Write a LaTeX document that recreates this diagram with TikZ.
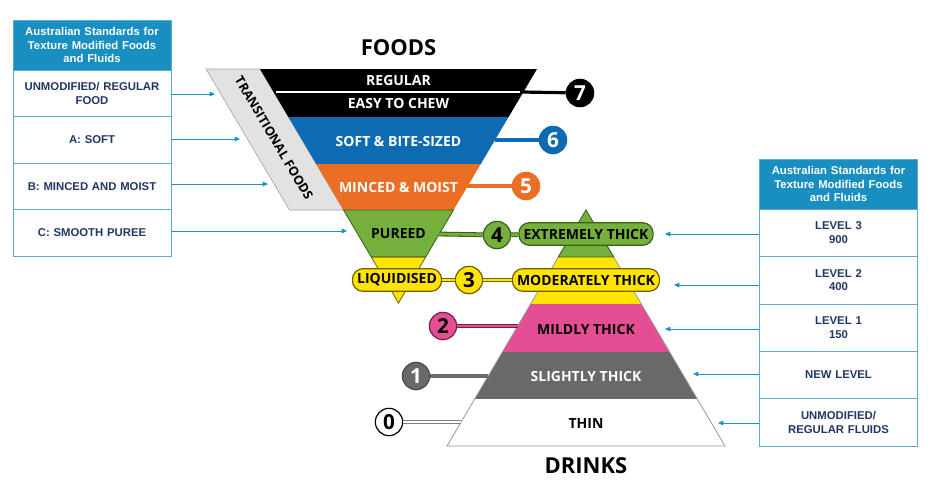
\documentclass[tikz,border=0pt]{standalone}
\usepackage{fontspec}
\setmainfont{Liberation Sans}
\newfontfamily\chartfont{Open Sans}
\usetikzlibrary{arrows.meta}
\definecolor{tblhead}{RGB}{24,142,193}
\definecolor{tblline}{RGB}{95,170,210}
\definecolor{tbltext}{RGB}{35,55,100}
\definecolor{arrowcol}{RGB}{30,145,190}
\definecolor{lvblue}{RGB}{14,107,178}
\definecolor{lvorange}{RGB}{234,111,36}
\definecolor{lvgreen}{RGB}{118,176,60}
\definecolor{lvgreendk}{RGB}{55,95,25}
\definecolor{lvyellow}{RGB}{255,228,0}
\definecolor{lvyellowdk}{RGB}{110,95,0}
\definecolor{lvpink}{RGB}{228,78,148}
\definecolor{lvpinkdk}{RGB}{120,30,70}
\definecolor{lvgrey}{RGB}{105,105,105}
\definecolor{transgrey}{RGB}{226,226,226}

\begin{document}
\begin{tikzpicture}[x=0.75pt, y=-0.75pt,
  cell/.style={draw=tblline, fill=white, minimum width=118.5pt, minimum height=34.9pt, text width=112pt, align=center, inner sep=0pt, text=tbltext, font=\fontsize{8.5}{10}\selectfont\bfseries},
  head/.style={cell, fill=tblhead, text=white, minimum height=37.5pt},
  arr/.style={-{Triangle[length=4pt,width=3.5pt]}, draw=arrowcol, line width=0.6pt},
  band/.style={font=\chartfont\fontsize{10.5}{11}\selectfont\bfseries},
  pill/.style={band, rounded corners=8pt, minimum height=17pt, inner xsep=3.5pt, inner ysep=0pt, line width=0.9pt},
  num/.style={circle, minimum size=20.5pt, inner sep=0pt, line width=0.9pt, font=\chartfont\fontsize{15.5}{15.5}\selectfont\bfseries},
  link/.style={line width=2.4pt},
  dlink/.style={line width=0.8pt, double distance=2pt}]

\useasboundingbox (0,0) rectangle (940,487);

% foods funnel
\coordinate (ftl) at (260,69);
\coordinate (ftr) at (537,69);
\coordinate (fap) at (398.5,303);

\fill[transgrey, draw=gray!70, line width=0.5pt] (206,69) -- (ftl) -- (343.5,210) -- (289.5,210) -- cycle;
\node[band, font=\chartfont\fontsize{9.5}{10}\selectfont\bfseries, rotate=-59.4] (trans) at (274,138) {TRANSITIONAL FOODS};

\begin{scope}
\clip (ftl) -- (ftr) -- (fap) -- cycle;
\fill[black] (200,60) rectangle (600,117);
\fill[lvblue] (200,117) rectangle (600,164);
\fill[lvorange] (200,164) rectangle (600,210);
\fill[lvgreen] (200,210) rectangle (600,257);
\fill[lvyellow] (200,257) rectangle (600,310);
\end{scope}
\draw[lvgreendk, line width=0.6pt] (343.5,210) -- (453.5,210) -- (425.7,257) -- (371.3,257) -- cycle;
\draw[lvyellowdk, line width=0.6pt] (371.3,257) -- (425.7,257) -- (fap) -- cycle;
\draw[white, line width=1pt] (276,92) -- (520,92);

\node[band, white] (reg) at (398.5,80) {REGULAR};
\node[band, white] (etc) at (398.5,103) {EASY TO CHEW};
\node[band, white] (sbs) at (398.5,141) {SOFT \& BITE-SIZED};
\node[band, white] (mm) at (398.5,187) {MINCED \& MOIST};
\node[band] (pur) at (398.5,234) {PUREED};
\node[font=\chartfont\fontsize{16.5}{16.5}\selectfont\bfseries] (foods) at (398.5,48) {FOODS};

% drinks pyramid
\coordinate (dap) at (586,210);
\coordinate (dbl) at (447,446);
\coordinate (dbr) at (725,446);

\begin{scope}
\clip (dap) -- (dbr) -- (dbl) -- cycle;
\fill[lvgreen] (440,200) rectangle (740,257);
\fill[lvyellow] (440,257) rectangle (740,304);
\fill[lvpink] (440,304) rectangle (740,352);
\fill[lvgrey] (440,352) rectangle (740,399);
\fill[white] (440,399) rectangle (740,446);
\end{scope}
\draw[gray!80, line width=0.6pt] (dap) -- (dbr) -- (dbl) -- cycle;
\draw[lvgreendk, line width=0.6pt] (dap) -- (613.7,257) -- (558.3,257) -- cycle;

\node[band] (mid) at (586,329) {MILDLY THICK};
\node[band, white] (sli) at (586,376) {SLIGHTLY THICK};
\node[band] (thin) at (586,423) {THIN};
\node[font=\chartfont\fontsize{16.5}{16.5}\selectfont\bfseries] (drinks) at (586,466) {DRINKS};

% level connectors
\coordinate (c7) at (522,92);
\coordinate (c6) at (495,140);
\coordinate (c5) at (467,186);
\coordinate (c4) at (439,234);
\coordinate (c2) at (518,326);
\coordinate (c1) at (488,376);
\coordinate (c0) at (461,422);

\node[pill, fill=lvgreen, draw=lvgreendk] (xt) at (586,234) {EXTREMELY THICK};
\node[pill, fill=lvyellow, draw=lvyellowdk] (mt) at (586,280) {MODERATELY THICK};
\node[pill, fill=lvyellow, draw=lvyellowdk] (liq) at (397,280) {LIQUIDISED};

\node[num, fill=black, draw=black, text=white] (n7) at (580,93) {7};
\node[num, fill=lvblue, draw=lvblue, text=white] (n6) at (553,140) {6};
\node[num, fill=lvorange, draw=lvorange, text=white] (n5) at (526,186) {5};
\node[num, fill=lvgreen, draw=lvgreendk] (n4) at (497,235) {4};
\node[num, fill=lvyellow, draw=lvyellowdk] (n3) at (469,280) {3};
\node[num, fill=lvpink, draw=lvpinkdk] (n2) at (443,326) {2};
\node[num, fill=lvgrey, draw=lvgrey!70!black, text=white] (n1) at (416,376) {1};
\node[num, fill=white, draw=black] (n0) at (389,422) {0};

\draw[link, black] (c7) -- (n7);
\draw[link, lvblue] (c6) -- (n6);
\draw[link, lvorange] (c5) -- (n5);
\draw[dlink, lvgreendk, double=lvgreen] (c4) -- (n4) (n4) -- (xt);
\draw[dlink, lvyellowdk, double=lvyellow] (liq) -- (n3) (n3) -- (mt);
\draw[dlink, lvpinkdk, double=lvpink] (n2) -- (c2);
\draw[link, lvgrey] (n1) -- (c1);
\draw[dlink, gray, double=white] (n0) -- (c0);

% left table
\node[head] (lh) at (92,45) {Australian Standards for\\Texture Modified Foods\\and Fluids};
\node[cell] (l1) at (92,93.3) {UNMODIFIED/ REGULAR\\FOOD};
\node[cell] (l2) at (92,139.8) {A: SOFT};
\node[cell] (l3) at (92,186.3) {B: MINCED AND MOIST};
\node[cell] (l4) at (92,232.8) {C: SMOOTH PUREE};

\coordinate (t1) at (215,94);
\coordinate (t2) at (240,139);
\coordinate (t3) at (268,184);
\coordinate (t4) at (347,231);
\foreach \i in {1,...,4}
  \draw[arr] (l\i.east |- t\i) -- (t\i);

% right table
\node[head] (rh) at (838.5,184) {Australian Standards for\\Texture Modified Foods\\and Fluids};
\node[cell, minimum height=35.5pt] (r1) at (838.5,232.7) {LEVEL 3\\900};
\node[cell, minimum height=35.5pt] (r2) at (838.5,280.1) {LEVEL 2\\400};
\node[cell, minimum height=35.5pt] (r3) at (838.5,327.5) {LEVEL 1\\150};
\node[cell, minimum height=35.5pt] (r4) at (838.5,374.9) {NEW LEVEL};
\node[cell, minimum height=35.5pt] (r5) at (838.5,422.3) {UNMODIFIED/\\REGULAR FLUIDS};

\coordinate (s1) at (665,234);
\coordinate (s2) at (674,285);
\coordinate (s3) at (665,329);
\coordinate (s4) at (693,374);
\coordinate (s5) at (718,423);
\foreach \i in {1,...,5}
  \draw[arr] (r\i.west |- s\i) -- (s\i);

\end{tikzpicture}
\end{document}
